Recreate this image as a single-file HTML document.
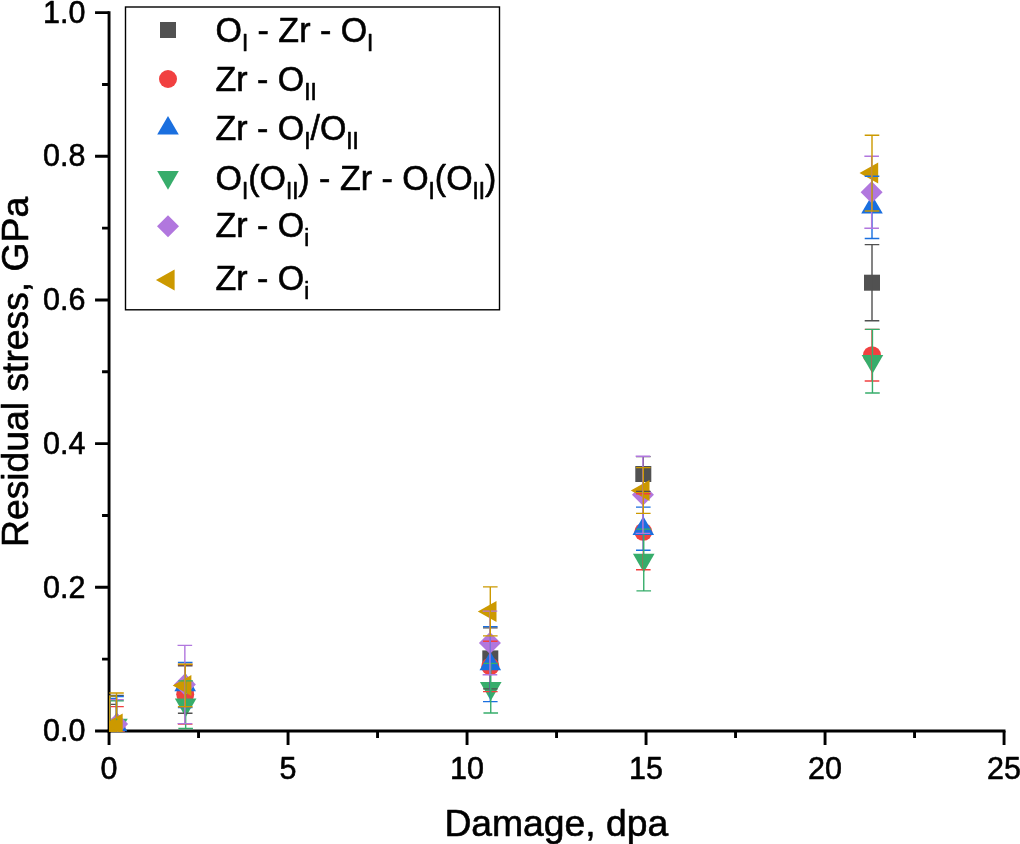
<!DOCTYPE html>
<html lang="en">
<head>
<meta charset="utf-8">
<title>Residual stress vs damage</title>
<style>
html,body{margin:0;padding:0;background:#fff;}
body{width:1020px;height:844px;overflow:hidden;font-family:'Liberation Sans', Arial, Helvetica, sans-serif;}
svg{display:block;}
svg text{font-family:'Liberation Sans', Arial, Helvetica, sans-serif;fill:#000;stroke:#000;stroke-width:0.6px;stroke-linejoin:round;}
</style>
</head>
<body>
<svg width="1020" height="844" viewBox="0 0 1020 844">
<defs><clipPath id="plotclip"><rect x="108.9" y="0" width="911.10" height="732"/></clipPath></defs>
<rect x="0" y="0" width="1020" height="844" fill="#fff"/>
<path d="M109.05,11.15V732.45" stroke="#000" stroke-width="2.9" fill="none"/>
<path d="M107.60,731.00H1005.50" stroke="#000" stroke-width="2.9" fill="none"/>
<path d="M109.05,731.00h-14M109.05,659.16h-7M109.05,587.32h-14M109.05,515.48h-7M109.05,443.64h-14M109.05,371.80h-7M109.05,299.96h-14M109.05,228.12h-7M109.05,156.28h-14M109.05,84.44h-7M109.05,12.60h-14M109.05,731.00v14M198.55,731.00v7M288.05,731.00v14M377.55,731.00v7M467.05,731.00v14M556.55,731.00v7M646.05,731.00v14M735.55,731.00v7M825.05,731.00v14M914.55,731.00v7M1004.05,731.00v14" stroke="#000" stroke-width="2.9" fill="none"/>
<text transform="translate(85.5,741.20) scale(1,1.0)" font-size="30.5" text-anchor="end">0.0</text>
<text transform="translate(85.5,597.52) scale(1,1.0)" font-size="30.5" text-anchor="end">0.2</text>
<text transform="translate(85.5,453.84) scale(1,1.0)" font-size="30.5" text-anchor="end">0.4</text>
<text transform="translate(85.5,310.16) scale(1,1.0)" font-size="30.5" text-anchor="end">0.6</text>
<text transform="translate(85.5,166.48) scale(1,1.0)" font-size="30.5" text-anchor="end">0.8</text>
<text transform="translate(85.5,22.80) scale(1,1.0)" font-size="30.5" text-anchor="end">1.0</text>
<text transform="translate(109.05,778.7) scale(1,1.0)" font-size="30.5" text-anchor="middle">0</text>
<text transform="translate(288.05,778.7) scale(1,1.0)" font-size="30.5" text-anchor="middle">5</text>
<text transform="translate(467.05,778.7) scale(1,1.0)" font-size="30.5" text-anchor="middle">10</text>
<text transform="translate(646.05,778.7) scale(1,1.0)" font-size="30.5" text-anchor="middle">15</text>
<text transform="translate(825.05,778.7) scale(1,1.0)" font-size="30.5" text-anchor="middle">20</text>
<text transform="translate(1004.05,778.7) scale(1,1.0)" font-size="30.5" text-anchor="middle">25</text>
<text transform="translate(556.3,835.6) scale(1,1.01)" font-size="37.3" text-anchor="middle">Damage, dpa</text>
<text transform="translate(27.6,371.9) rotate(-90) scale(1,1.01)" font-size="37.3" text-anchor="middle">Residual stress, GPa</text>
<g clip-path="url(#plotclip)">
<rect x="108.50" y="719.00" width="16" height="16" fill="#515151"/>
<rect x="177.20" y="681.50" width="16" height="16" fill="#515151"/>
<rect x="482.30" y="650.40" width="16" height="16" fill="#515151"/>
<rect x="635.30" y="466.00" width="16" height="16" fill="#515151"/>
<rect x="864.00" y="274.70" width="16" height="16" fill="#515151"/>
<circle cx="116.50" cy="728.00" r="9" fill="#F14040"/>
<circle cx="185.20" cy="694.30" r="9" fill="#F14040"/>
<circle cx="490.30" cy="666.40" r="9" fill="#F14040"/>
<circle cx="643.30" cy="531.80" r="9" fill="#F14040"/>
<circle cx="872.00" cy="355.20" r="9" fill="#F14040"/>
<polygon points="116.50,712.50 127.30,731.20 105.70,731.20" fill="#1A6FDF"/>
<polygon points="185.20,672.50 196.00,691.20 174.40,691.20" fill="#1A6FDF"/>
<polygon points="490.30,651.60 501.10,670.30 479.50,670.30" fill="#1A6FDF"/>
<polygon points="643.30,516.20 654.10,534.90 632.50,534.90" fill="#1A6FDF"/>
<polygon points="872.00,194.90 882.80,213.60 861.20,213.60" fill="#1A6FDF"/>
<polygon points="116.95,737.40 127.75,718.70 106.15,718.70" fill="#37AD6B"/>
<polygon points="185.65,717.20 196.45,698.50 174.85,698.50" fill="#37AD6B"/>
<polygon points="490.75,700.70 501.55,682.00 479.95,682.00" fill="#37AD6B"/>
<polygon points="643.75,572.50 654.55,553.80 632.95,553.80" fill="#37AD6B"/>
<polygon points="872.45,373.70 883.25,355.00 861.65,355.00" fill="#37AD6B"/>
<polygon points="117.10,713.00 128.10,724.00 117.10,735.00 106.10,724.00" fill="#B177DE"/>
<polygon points="184.85,673.50 195.85,684.50 184.85,695.50 173.85,684.50" fill="#B177DE"/>
<polygon points="489.95,631.90 500.95,642.90 489.95,653.90 478.95,642.90" fill="#B177DE"/>
<polygon points="642.95,483.80 653.95,494.80 642.95,505.80 631.95,494.80" fill="#B177DE"/>
<polygon points="871.65,181.30 882.65,192.30 871.65,203.30 860.65,192.30" fill="#B177DE"/>
<polygon points="98.85,731.00 117.55,720.50 117.55,741.50" fill="#CC9900"/>
<polygon points="104.00,723.90 122.70,713.40 122.70,734.40" fill="#CC9900"/>
<polygon points="172.70,685.50 191.40,675.00 191.40,696.00" fill="#CC9900"/>
<polygon points="477.80,611.40 496.50,600.90 496.50,621.90" fill="#CC9900"/>
<polygon points="630.80,490.50 649.50,480.00 649.50,501.00" fill="#CC9900"/>
<polygon points="859.50,173.10 878.20,162.60 878.20,183.60" fill="#CC9900"/>
<path d="M109.80,721.00V704.40M102.50,704.40H117.10" stroke="#515151" stroke-width="1.4" fill="none"/>
<path d="M116.50,716.50V695.50M109.20,695.50H123.80" stroke="#515151" stroke-width="1.4" fill="none"/>
<path d="M185.20,689.50V665.80M177.90,665.80H192.50M185.20,689.50V713.20M177.90,713.20H192.50" stroke="#515151" stroke-width="1.4" fill="none"/>
<path d="M490.30,658.40V627.90M483.00,627.90H497.60M490.30,658.40V688.90M483.00,688.90H497.60" stroke="#515151" stroke-width="1.4" fill="none"/>
<path d="M643.30,474.00V456.60M636.00,456.60H650.60M643.30,474.00V491.40M636.00,491.40H650.60" stroke="#515151" stroke-width="1.4" fill="none"/>
<path d="M872.00,282.70V244.60M864.70,244.60H879.30M872.00,282.70V320.80M864.70,320.80H879.30" stroke="#515151" stroke-width="1.4" fill="none"/>
<path d="M116.50,716.50V706.60M109.20,706.60H123.80" stroke="#F14040" stroke-width="1.4" fill="none"/>
<path d="M185.20,694.30V664.50M177.90,664.50H192.50M185.20,694.30V724.10M177.90,724.10H192.50" stroke="#F14040" stroke-width="1.4" fill="none"/>
<path d="M490.30,666.40V641.20M483.00,641.20H497.60M490.30,666.40V691.60M483.00,691.60H497.60" stroke="#F14040" stroke-width="1.4" fill="none"/>
<path d="M643.30,531.80V493.80M636.00,493.80H650.60M643.30,531.80V569.80M636.00,569.80H650.60" stroke="#F14040" stroke-width="1.4" fill="none"/>
<path d="M872.00,355.20V329.40M864.70,329.40H879.30M872.00,355.20V381.00M864.70,381.00H879.30" stroke="#F14040" stroke-width="1.4" fill="none"/>
<path d="M109.80,721.00V698.60M102.50,698.60H117.10" stroke="#1A6FDF" stroke-width="1.4" fill="none"/>
<path d="M116.50,716.50V696.50M109.20,696.50H123.80" stroke="#1A6FDF" stroke-width="1.4" fill="none"/>
<path d="M185.20,685.00V662.50M177.90,662.50H192.50M185.20,685.00V707.50M177.90,707.50H192.50" stroke="#1A6FDF" stroke-width="1.4" fill="none"/>
<path d="M490.30,664.10V626.60M483.00,626.60H497.60M490.30,664.10V701.60M483.00,701.60H497.60" stroke="#1A6FDF" stroke-width="1.4" fill="none"/>
<path d="M643.30,528.70V507.10M636.00,507.10H650.60M643.30,528.70V550.30M636.00,550.30H650.60" stroke="#1A6FDF" stroke-width="1.4" fill="none"/>
<path d="M872.00,207.40V176.30M864.70,176.30H879.30M872.00,207.40V238.50M864.70,238.50H879.30" stroke="#1A6FDF" stroke-width="1.4" fill="none"/>
<path d="M116.50,716.50V700.80M109.20,700.80H123.80" stroke="#37AD6B" stroke-width="1.4" fill="none"/>
<path d="M185.65,704.70V680.90M178.35,680.90H192.95M185.65,704.70V728.50M178.35,728.50H192.95" stroke="#37AD6B" stroke-width="1.4" fill="none"/>
<path d="M490.75,688.20V663.40M483.45,663.40H498.05M490.75,688.20V713.00M483.45,713.00H498.05" stroke="#37AD6B" stroke-width="1.4" fill="none"/>
<path d="M643.75,560.00V529.10M636.45,529.10H651.05M643.75,560.00V590.90M636.45,590.90H651.05" stroke="#37AD6B" stroke-width="1.4" fill="none"/>
<path d="M872.45,361.20V329.40M865.15,329.40H879.75M872.45,361.20V393.00M865.15,393.00H879.75" stroke="#37AD6B" stroke-width="1.4" fill="none"/>
<path d="M116.50,716.50V699.60M109.20,699.60H123.80" stroke="#B177DE" stroke-width="1.4" fill="none"/>
<path d="M184.85,684.50V645.40M177.55,645.40H192.15M184.85,684.50V723.60M177.55,723.60H192.15" stroke="#B177DE" stroke-width="1.4" fill="none"/>
<path d="M489.95,642.90V611.10M482.65,611.10H497.25M489.95,642.90V674.70M482.65,674.70H497.25" stroke="#B177DE" stroke-width="1.4" fill="none"/>
<path d="M642.95,494.80V456.20M635.65,456.20H650.25M642.95,494.80V533.40M635.65,533.40H650.25" stroke="#B177DE" stroke-width="1.4" fill="none"/>
<path d="M871.65,192.30V156.30M864.35,156.30H878.95M871.65,192.30V228.30M864.35,228.30H878.95" stroke="#B177DE" stroke-width="1.4" fill="none"/>
<path d="M109.80,721.00V696.10M102.50,696.10H117.10" stroke="#CC9900" stroke-width="1.4" fill="none"/>
<path d="M116.50,723.90V693.00M109.20,693.00H123.80" stroke="#CC9900" stroke-width="1.4" fill="none"/>
<path d="M185.20,685.50V664.20M177.90,664.20H192.50M185.20,685.50V706.80M177.90,706.80H192.50" stroke="#CC9900" stroke-width="1.4" fill="none"/>
<path d="M490.30,611.40V586.90M483.00,586.90H497.60M490.30,611.40V635.90M483.00,635.90H497.60" stroke="#CC9900" stroke-width="1.4" fill="none"/>
<path d="M643.30,490.50V467.60M636.00,467.60H650.60M643.30,490.50V513.40M636.00,513.40H650.60" stroke="#CC9900" stroke-width="1.4" fill="none"/>
<path d="M872.00,173.10V135.20M864.70,135.20H879.30M872.00,173.10V211.00M864.70,211.00H879.30" stroke="#CC9900" stroke-width="1.4" fill="none"/>
<circle cx="116.6" cy="719.4" r="0.8" fill="#37AD6B"/>
</g>
<rect x="125.5" y="7" width="374" height="302.8" fill="#fff" stroke="#000" stroke-width="1.4"/>
<rect x="160.00" y="22.00" width="16" height="16" fill="#515151"/>
<circle cx="168.00" cy="79.00" r="9" fill="#F14040"/>
<polygon points="168.00,115.90 178.80,134.60 157.20,134.60" fill="#1A6FDF"/>
<polygon points="168.00,189.80 178.80,171.10 157.20,171.10" fill="#37AD6B"/>
<polygon points="168.00,215.30 179.00,226.30 168.00,237.30 157.00,226.30" fill="#B177DE"/>
<polygon points="155.90,280.00 174.60,269.50 174.60,290.50" fill="#CC9900"/>
<text transform="translate(215.5,42) scale(1,1.03)" font-size="34.0">O<tspan font-size="22.4" dy="8.7">I</tspan><tspan dy="-8.7"> - Zr - O</tspan><tspan font-size="22.4" dy="8.7">I</tspan></text>
<text transform="translate(215.5,91.4) scale(1,1.03)" font-size="34.0">Zr - O<tspan font-size="22.4" dy="8.7">II</tspan></text>
<text transform="translate(215.5,139.8) scale(1,1.03)" font-size="34.0">Zr - O<tspan font-size="22.4" dy="8.7">I</tspan><tspan dy="-8.7">/O</tspan><tspan font-size="22.4" dy="8.7">II</tspan></text>
<text transform="translate(215.5,189.7) scale(1,1.03)" font-size="34.0">O<tspan font-size="22.4" dy="8.7">I</tspan><tspan dy="-8.7">(O</tspan><tspan font-size="22.4" dy="8.7">II</tspan><tspan dy="-8.7">) - Zr - O</tspan><tspan font-size="22.4" dy="8.7">I</tspan><tspan dy="-8.7">(O</tspan><tspan font-size="22.4" dy="8.7">II</tspan><tspan dy="-8.7">)</tspan></text>
<text transform="translate(215.5,237.4) scale(1,1.03)" font-size="34.0">Zr - O<tspan font-size="22.4" dy="8.7">i</tspan></text>
<text transform="translate(215.5,290.3) scale(1,1.03)" font-size="34.0">Zr - O<tspan font-size="22.4" dy="8.7">i</tspan></text>
</svg>
</body>
</html>
